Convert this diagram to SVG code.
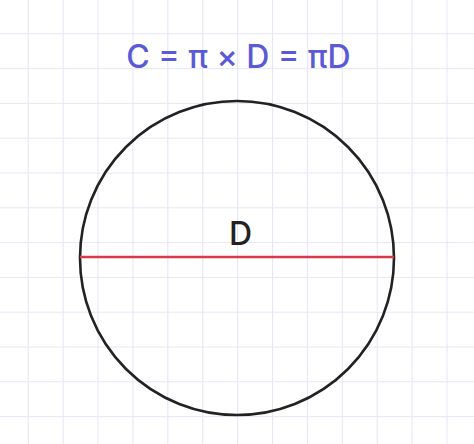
<svg xmlns="http://www.w3.org/2000/svg" width="474" height="444" viewBox="0 0 474 444">
<defs>
<pattern id="grid" x="27.7" y="33.3" width="34.9" height="34.8" patternUnits="userSpaceOnUse">
<path d="M0.5 0V34.8M0 0.5H34.9" fill="none" stroke="#e6e6f5" stroke-width="1.2"/>
</pattern>
</defs>
<style>
.title{font-family:Inter,"Liberation Sans",sans-serif;font-size:32px;fill:#5a5ad6;font-weight:500}
.lbl{font-family:Inter,"Liberation Sans",sans-serif;font-size:32px;fill:#222;font-weight:500}
</style>
<rect width="474" height="444" fill="#fff"/>
<rect width="474" height="444" fill="url(#grid)"/>
<g id="title"><text class="title" x="238.5" y="68" text-anchor="middle">C = π × D = πD</text></g>
<g id="circle"><circle cx="237" cy="258" r="157" fill="none" stroke="#222" stroke-width="2.6"/></g>
<g id="connectors"><line x1="80" y1="257" x2="394" y2="257" stroke="#d93a48" stroke-width="2.6"/></g>
<g id="label"><text class="lbl" x="240.5" y="245" text-anchor="middle">D</text></g>
</svg>
